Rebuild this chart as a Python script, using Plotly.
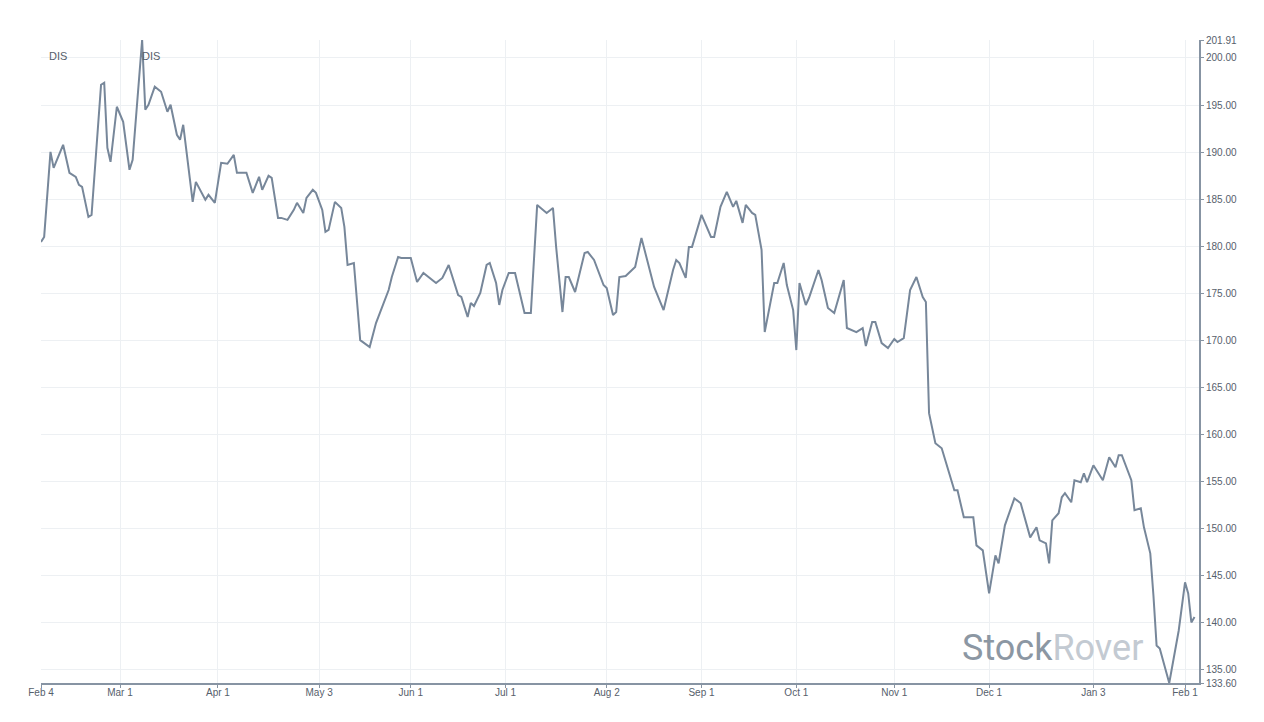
import pandas as pd
import plotly.graph_objects as go

# ---- data (calendar-day offsets from 2021-02-04, closing price) ----
start_date = "2021-02-04"
day_offsets = [
    0, 1, 3, 4, 7, 9, 11, 12, 13, 15, 16, 19, 20, 21, 22, 24, 26, 28, 29, 32,
    33, 34, 36, 38, 40, 41, 43, 44, 45, 48, 49, 52, 53, 55, 57, 59, 61, 62, 65, 67,
    69, 70, 72, 73, 75, 76, 78, 80, 81, 83, 84, 86, 87, 89, 90, 91, 93, 95, 96, 97,
    99, 101, 104, 106, 110, 111, 113, 114, 117, 119, 121, 125, 127, 129, 132, 133, 135, 136, 137, 139,
    141, 142, 144, 145, 146, 148, 150, 152, 153, 155, 157, 160, 162, 163, 165, 166, 167, 169, 172, 173,
    175, 178, 179, 181, 182, 183, 185, 188, 190, 194, 197, 200, 201, 202, 204, 205, 206, 209, 212, 213,
    215, 217, 219, 220, 222, 223, 225, 226, 228, 229, 232, 233, 235, 236, 238, 239, 240, 242, 243, 246,
    247, 249, 251, 254, 255, 258, 260, 261, 263, 264, 266, 268, 270, 271, 273, 275, 277, 279, 280, 281,
    283, 285, 289, 290, 292, 295, 296, 298, 300, 302, 303, 305, 308, 310, 313, 315, 316, 318, 319, 320,
    322, 323, 324, 326, 327, 329, 330, 331, 333, 336, 338, 340, 341, 342, 345, 346, 348, 349, 351, 352,
    353, 354, 357, 360, 362, 363, 364, 365,
]
close_prices = [
    180.46, 180.99, 190.03, 188.33, 190.78, 187.80, 187.37, 186.52, 186.31, 183.12,
    183.33, 197.16, 197.37, 190.46, 188.97, 194.82, 193.22, 188.12, 189.18, 201.91,
    194.50, 195.03, 196.95, 196.41, 194.29, 195.03, 191.84, 191.31, 192.90, 184.71,
    186.84, 184.93, 185.46, 184.61, 188.86, 188.76, 189.71, 187.80, 187.80, 185.67,
    187.37, 185.99, 187.48, 187.27, 183.01, 183.01, 182.80, 183.86, 184.61, 183.54,
    185.14, 185.99, 185.67, 183.86, 181.52, 181.73, 184.71, 184.07, 182.05, 178.01,
    178.22, 170.03, 169.29, 171.84, 175.35, 176.73, 178.86, 178.76, 178.76, 176.20,
    177.16, 176.10, 176.63, 178.01, 174.82, 174.61, 172.48, 173.97, 173.65, 175.03,
    178.01, 178.22, 176.10, 173.76, 175.35, 177.16, 177.16, 174.29, 172.90, 172.90,
    184.39, 183.54, 184.07, 179.93, 173.01, 176.73, 176.73, 175.14, 179.29, 179.39,
    178.54, 175.88, 175.56, 172.69, 173.01, 176.73, 176.84, 177.80, 180.88, 175.67,
    173.22, 177.48, 178.54, 178.22, 176.63, 179.93, 179.93, 183.33, 180.99, 180.99,
    184.18, 185.78, 184.18, 184.82, 182.48, 184.39, 183.54, 183.33, 179.61, 170.88,
    176.10, 176.10, 178.22, 175.88, 173.22, 168.97, 176.10, 173.76, 174.50, 177.48,
    176.41, 173.44, 172.90, 176.41, 171.31, 170.88, 171.31, 169.39, 171.95, 171.95,
    169.71, 169.18, 170.14, 169.82, 170.24, 175.35, 176.73, 174.61, 174.08, 162.27,
    159.07, 158.54, 154.07, 154.07, 151.20, 151.20, 148.22, 147.69, 143.12, 147.16,
    146.31, 150.35, 153.22, 152.69, 149.07, 150.14, 148.75, 148.43, 146.31, 150.88,
    151.63, 153.33, 153.76, 152.80, 155.14, 154.93, 155.88, 154.93, 156.73, 155.14,
    157.59, 156.52, 157.80, 157.80, 155.14, 151.95, 152.16, 150.14, 147.37, 142.90,
    137.58, 137.26, 133.60, 139.18, 144.29, 143.12, 140.03, 140.60,
]
ticker = "DIS"

x_tick_dates = ["2021-02-04", "2021-03-01", "2021-04-01", "2021-05-03", "2021-06-01",
                "2021-07-01", "2021-08-02", "2021-09-01", "2021-10-01", "2021-11-01",
                "2021-12-01", "2022-01-03", "2022-02-01"]
x_tick_labels = ["Feb 4", "Mar 1", "Apr 1", "May 3", "Jun 1", "Jul 1", "Aug 2",
                 "Sep 1", "Oct 1", "Nov 1", "Dec 1", "Jan 3", "Feb 1"]
y_tick_values = [133.60, 135, 140, 145, 150, 155, 160, 165, 170, 175, 180, 185,
                 190, 195, 200, 201.91]
y_tick_labels = [f"{v:.2f}" for v in y_tick_values]

dates = pd.Timestamp(start_date) + pd.to_timedelta(day_offsets, unit="D")

LINE = "#77879a"
AXIS = "#8794a3"
GRID = "#edf0f3"
TXT = "#56606b"

fig = go.Figure()
fig.add_trace(go.Scatter(x=dates, y=close_prices, mode="lines",
                         line=dict(color=LINE, width=2), hoverinfo="x+y",
                         showlegend=False))

peak_idx = close_prices.index(max(close_prices))
fig.add_annotation(x=dates[0], y=200.2, xref="x", yref="y", text=ticker,
                   showarrow=False, xanchor="left", yanchor="middle", xshift=6,
                   font=dict(family="Liberation Sans, Arial", size=11, color=TXT))
fig.add_annotation(x=dates[peak_idx], y=200.2, xref="x", yref="y", text=ticker,
                   showarrow=False, xanchor="left", yanchor="middle", xshift=-2,
                   font=dict(family="Liberation Sans, Arial", size=11, color=TXT))

# watermark
fig.add_annotation(x=0.953, y=0.055, xref="paper", yref="paper",
                   text="<span style='color:#8c97a3'>Stock</span><span style='color:#c3cad2'>Rover</span>",
                   showarrow=False, xanchor="right", yanchor="middle",
                   font=dict(family="Roboto, Open Sans", size=36))

fig.update_layout(
    width=1256, height=714,
    margin=dict(l=33, r=65, t=32, b=39),
    paper_bgcolor="white", plot_bgcolor="white",
    xaxis=dict(type="date", range=["2021-02-04", "2022-02-05 10:00"],
               tickvals=x_tick_dates, ticktext=x_tick_labels,
               showgrid=True, gridcolor=GRID, gridwidth=1,
               showline=True, linecolor=AXIS, linewidth=2,
               ticks="outside", ticklen=3, tickcolor=AXIS,
               ticklabelstandoff=-4,
               tickfont=dict(family="Liberation Sans, Arial", size=10, color=TXT),
               zeroline=False, fixedrange=True),
    yaxis=dict(side="right", range=[133.60, 201.91],
               tickvals=y_tick_values, ticktext=y_tick_labels,
               showgrid=True, gridcolor=GRID, gridwidth=1,
               showline=True, linecolor=AXIS, linewidth=2,
               ticks="outside", ticklen=3, tickcolor=AXIS,
               tickfont=dict(family="Liberation Sans, Arial", size=10, color=TXT),
               zeroline=False, fixedrange=True),
)

fig.write_html("out.html")
